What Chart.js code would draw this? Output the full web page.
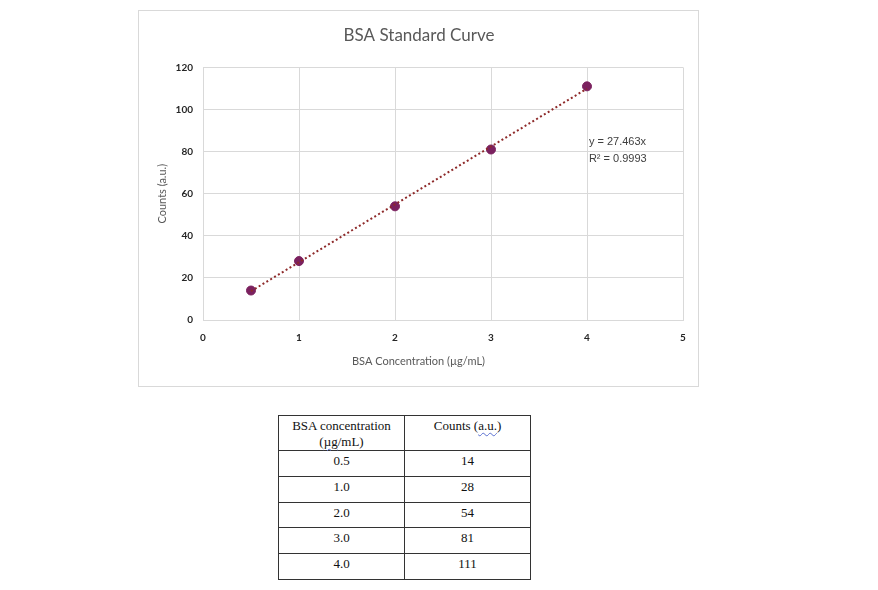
<!DOCTYPE html>
<html>
<head>
<meta charset="utf-8">
<script src="https://cdn.jsdelivr.net/npm/chart.js@4.4.1/dist/chart.umd.min.js"></script>
<style>
  body { margin: 0; background: #fff; width: 878px; height: 590px; position: relative; overflow: hidden; }
  #frame { position: absolute; left: 138px; top: 10px; width: 561px; height: 377px; border: 1px solid #d9d9d9; box-sizing: border-box; }
  #frame canvas { position: absolute; left: 0; top: 0; }
  #tbl { position: absolute; left: 278px; top: 415px; border-collapse: collapse; table-layout: fixed;
         font-family: "Liberation Serif", "DejaVu Serif", serif; font-size: 13px; color: #111; }
  #tbl td { border: 1px solid #333; text-align: center; vertical-align: top; padding: 2px 4px 0; line-height: 16px; overflow: visible; }
  #tbl col { width: 126px; }
  .sq { text-decoration: underline wavy #5a6fd0; text-decoration-thickness: 1px; text-underline-offset: 2px; }
</style>
</head>
<body>
<div id="frame"><canvas id="graph" width="559" height="375"></canvas></div>
<table id="tbl">
  <colgroup><col><col></colgroup>
  <tbody id="tbody"></tbody>
</table>
<script>
// values
const concentrations = [0.5, 1.0, 2.0, 3.0, 4.0];
const counts = [14, 28, 54, 81, 111];
// excel linear trendline, forced through zero: y = 27.463x
const trendX = [0.5, 4.0];
const trendY = [13.7, 109.9];
const trendText = ['y = 27.463x', 'R\u00b2 = 0.9993'];
const trendTextAt = { x: 4.02, y: 84.5 };
const xTitle = 'BSA Concentration (\u00b5g/mL)';

// table under the chart
let tbody = document.getElementById('tbody')
let head = document.createElement('tr')
head.style.height = '35px'
head.innerHTML = '<td>BSA concentration (<span class="sq">\u00b5g</span>/mL)</td><td>Counts (<span class="sq">a.u.</span>)</td>'
tbody.appendChild(head)
concentrations.forEach((c, i) => {
  let tr = document.createElement('tr')
  tr.style.height = (i === 1 || i === 4 ? 26 : 25.5) + 'px'
  tr.innerHTML = '<td>' + c.toFixed(1) + '</td><td>' + counts[i] + '</td>'
  tbody.appendChild(tr)
})

// trendline label and x axis title (excel centres it on the whole chart)
const extraText = {
  id: 'extraText',
  afterDatasetsDraw(chart) {
    let ctx = chart.ctx
    let x = chart.scales.x.getPixelForValue(trendTextAt.x)
    let y = chart.scales.y.getPixelForValue(trendTextAt.y)
    ctx.save()
    ctx.font = '11px "Liberation Sans", Arial, sans-serif'
    ctx.fillStyle = '#404040'
    ctx.textBaseline = 'middle'
    trendText.forEach((t, i) => ctx.fillText(t, x, y + i * 17))
    ctx.font = '11px Lato, sans-serif'
    ctx.fillStyle = '#595959'
    ctx.textAlign = 'center'
    ctx.fillText(xTitle, chart.width / 2, chart.height - 25)
    ctx.restore()
  }
}

let ctx = document.getElementById('graph').getContext('2d')
var graph = new Chart(ctx, {
  type: 'scatter',
  data: {
    datasets: [{
      label: 'Trend',
      type: 'line',
      data: trendX.map((x, i) => ({ x: x, y: trendY[i] })),
      borderColor: '#8e2a2a',
      borderWidth: 2,
      borderDash: [2, 2.5],
      pointRadius: 0,
      fill: false
    }, {
      label: 'Counts',
      data: concentrations.map((x, i) => ({ x: x, y: counts[i] })),
      backgroundColor: '#7b215f',
      borderColor: '#7b215f',
      pointRadius: 4.5,
      pointHoverRadius: 4.5
    }]
  },
  options: {
    responsive: false,
    animation: false,
    layout: { padding: { left: 16, right: 15, top: 0, bottom: 0 } },
    plugins: {
      legend: { display: false },
      tooltip: { enabled: false },
      title: {
        display: true,
        text: 'BSA Standard Curve',
        color: '#595959',
        font: { family: 'Lato, "Open Sans", sans-serif', size: 17, weight: 'normal' },
        padding: { top: 14, bottom: 22 }
      }
    },
    scales: {
      x: {
        type: 'linear',
        min: 0, max: 5,
        ticks: { stepSize: 1, color: '#262626', padding: 12, font: { family: 'Lato, sans-serif', size: 10, weight: 'bold' } },
        grid: { color: '#d9d9d9', drawTicks: false },
        border: { color: '#d9d9d9' },
        afterFit(scale) { scale.height = 66 }
      },
      y: {
        min: 0, max: 120,
        ticks: { stepSize: 20, color: '#262626', padding: 10, font: { family: 'Lato, sans-serif', size: 10, weight: 'bold' } },
        grid: { color: '#d9d9d9', drawTicks: false },
        border: { color: '#d9d9d9' },
        title: { display: true, text: 'Counts (a.u.)', color: '#595959',
                 font: { family: 'Lato, sans-serif', size: 11 }, padding: { top: 1, bottom: 0 } },
        afterFit(scale) { scale.width = 48 }
      }
    }
  },
  plugins: [extraText]
});
</script>
</body>
</html>
